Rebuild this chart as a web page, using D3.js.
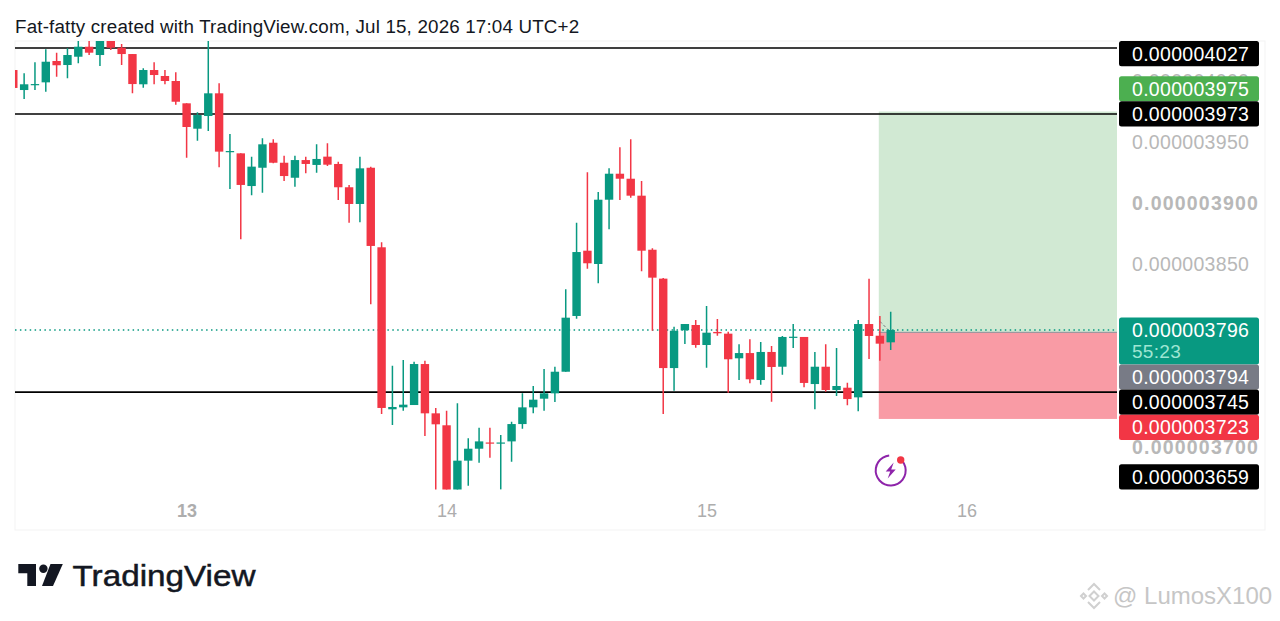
<!DOCTYPE html>
<html>
<head>
<meta charset="utf-8">
<script src="https://cdn.jsdelivr.net/npm/d3@7"></script>
<style>
  html, body { margin: 0; padding: 0; background: #fff; overflow: hidden; }
  svg { display: block; }
  text { font-family: "Liberation Sans", sans-serif; }
</style>
</head>
<body>
<div id="chart-area"></div>
<script>
// hourly candles, prices in units of 1e-9
const opens = [4009.0,3992.6,3996.7,3998.9,4016.4,4013.1,4019.9,4028.1,4021.3,4035.2,4027.3,4022.1,3997.3,4009.0,4004.1,4000.0,3981.7,3960.9,3971.3,3989.9,3941.6,3940.7,3913.9,3928.9,3949.4,3933.0,3920.7,3935.2,3931.2,3938.0,3932.0,3912.9,3899.2,3928.9,3863.7,3730.9,3732.5,3734.4,3768.0,3727.6,3717.8,3661.0,3688.8,3698.6,3703.7,3702.9,3704.6,3718.8,3732.5,3739.6,3744.0,3761.7,3807.4,3860.9,3850.0,3902.7,3924.0,3919.9,3906.0,3861.7,3838.0,3764.7,3795.7,3800.0,3783.6,3794.3,3792.9,3772.7,3777.0,3754.9,3777.9,3765.8,3789.6,3790.2,3751.6,3765.8,3746.7,3748.6,3740.7,3800.8,3791.2,3785.8];
const highs = [4009.0,4006.3,4015.3,4026.0,4023.2,4026.8,4033.0,4033.0,4036.9,4036.9,4030.3,4022.1,4010.4,4015.3,4009.0,4007.1,3981.7,3974.3,4036.9,3998.1,3956.6,3940.7,3938.0,3953.0,3952.2,3938.8,3938.8,3938.0,3948.1,3948.9,3933.9,3914.8,3938.0,3929.8,3867.8,3766.6,3771.3,3769.9,3770.7,3732.0,3729.7,3735.8,3707.1,3715.8,3715.8,3709.8,3720.7,3744.0,3750.0,3763.9,3765.8,3829.3,3883.9,3925.2,3909.0,3928.4,3945.7,3952.2,3918.0,3862.9,3838.5,3798.6,3800.8,3804.1,3815.6,3804.9,3794.5,3784.2,3788.3,3786.1,3782.8,3791.0,3800.8,3790.2,3777.9,3784.2,3781.1,3752.7,3804.1,3838.0,3807.4,3810.9];
const lows = [3994.3,3985.3,3992.6,3991.2,4003.5,4002.2,4014.5,4021.3,4012.3,4025.4,4013.1,3989.9,3994.5,3997.3,3997.3,3980.6,3937.1,3951.1,3959.0,3929.3,3911.5,3870.2,3906.3,3908.4,3932.5,3918.0,3913.4,3924.3,3924.8,3930.3,3902.5,3883.9,3884.2,3817.0,3727.0,3718.0,3729.7,3734.4,3709.0,3660.0,3659.0,3659.0,3668.3,3687.1,3691.2,3665.0,3687.9,3715.0,3727.6,3729.7,3736.9,3761.7,3805.2,3846.1,3834.2,3878.4,3902.5,3904.3,3844.0,3795.3,3727.0,3746.1,3784.4,3781.4,3765.0,3791.2,3744.5,3754.9,3752.2,3751.1,3737.1,3759.3,3781.1,3748.9,3730.9,3745.3,3741.8,3734.2,3729.3,3772.1,3770.7,3779.5];
const closes = [3994.3,3997.3,3997.5,4015.8,4012.9,4021.3,4028.1,4023.2,4035.2,4027.3,4022.1,3997.5,4009.0,4004.9,4000.0,3983.0,3962.3,3972.1,3989.9,3942.1,3942.6,3914.8,3929.8,3948.1,3933.0,3922.1,3935.2,3932.0,3936.1,3931.4,3912.9,3899.2,3928.4,3864.8,3732.0,3732.8,3734.7,3768.0,3727.6,3718.6,3661.0,3688.8,3698.6,3704.6,3702.9,3703.7,3718.8,3732.5,3738.8,3744.0,3761.7,3806.0,3859.8,3850.6,3902.7,3924.0,3919.9,3906.0,3860.9,3838.8,3764.7,3795.3,3800.8,3783.6,3793.7,3793.2,3771.9,3777.0,3755.5,3777.9,3765.6,3790.2,3790.4,3752.5,3765.8,3746.7,3750.0,3739.3,3800.8,3791.0,3784.7,3795.9];

const dayLabels = ["13", "14", "15", "16"];
const dayCandles = [16, 40, 64, 88];
const boldDays = ["13"];

const priceTicks = [4000, 3950, 3900, 3850, 3700];
const boldTicks = [3900, 3700];

const levels = [4027, 3973, 3745];
const lastPrice = 3796;
const countdown = "55:23";
const targetPrice = 3975, entryPrice = 3794, stopPrice = 3723;
const positionStart = 79.9;

const tagValues = [4027, 3975, 3973, 3796, 3794, 3745, 3723, 3659];
const tagColors = ["#000", "#4caf50", "#000", "#089981", "#787b86", "#000", "#f23645", "#000"];

const title = "Fat-fatty created with TradingView.com, Jul 15, 2026 17:04 UTC+2";

const width = 1280, height = 621;
const pane = { left: 15, right: 1117, top: 41, bottom: 489.5 };
const green = "#089981", red = "#f23645";
const fmt = d => (d * 1e-9).toFixed(9);

const svg = d3.select("#chart-area").append("svg")
    .attr("width", width)
    .attr("height", height);

const x = d3.scaleLinear().domain([0, 81]).range([13.3, 890.7]);
const y = d3.scaleLinear().domain([3950, 3700]).range([142, 447]);

svg.append("text")
    .attr("x", 15).attr("y", 33)
    .attr("font-size", 18.8)
    .attr("letter-spacing", 0.17)
    .attr("fill", "#131722")
    .text(title);

// outer frame, barely visible
svg.append("rect")
    .attr("x", 15).attr("y", 41).attr("width", 1250).attr("height", 489)
    .attr("fill", "none").attr("stroke", "#f3f3f3");

svg.append("defs").append("clipPath").attr("id", "pane")
    .append("rect")
    .attr("x", pane.left).attr("y", pane.top)
    .attr("width", pane.right - pane.left).attr("height", pane.bottom - pane.top);

const chart = svg.append("g").attr("clip-path", "url(#pane)");

// long position box
chart.append("rect")
    .attr("x", x(positionStart)).attr("width", pane.right - x(positionStart))
    .attr("y", y(targetPrice)).attr("height", y(entryPrice) - y(targetPrice))
    .attr("fill", "#d1e9d3");
chart.append("rect")
    .attr("x", x(positionStart)).attr("width", pane.right - x(positionStart))
    .attr("y", y(entryPrice)).attr("height", y(stopPrice) - y(entryPrice))
    .attr("fill", "#f99ba5");

// entry line of the position
chart.append("line")
    .attr("x1", x(positionStart)).attr("x2", pane.right)
    .attr("y1", y(entryPrice)).attr("y2", y(entryPrice))
    .attr("stroke", "#8a8f98").attr("stroke-width", 1);
chart.append("line")
    .attr("x1", x(80)).attr("x2", x(81))
    .attr("y1", y(3803)).attr("y2", y(entryPrice))
    .attr("stroke", "#787b86").attr("stroke-width", 1)
    .attr("stroke-dasharray", "3 2");

// horizontal levels
chart.selectAll("line.level")
    .data(levels)
    .enter().append("line")
    .attr("class", "level")
    .attr("x1", pane.left).attr("x2", pane.right)
    .attr("y1", d => y(d)).attr("y2", d => y(d))
    .attr("stroke", "#000").attr("stroke-width", 1.6);

// last price line
chart.append("line")
    .attr("x1", pane.left).attr("x2", pane.right)
    .attr("y1", y(lastPrice)).attr("y2", y(lastPrice))
    .attr("stroke", green).attr("stroke-width", 1.5)
    .attr("stroke-dasharray", "1.5 3.4");

// candles
const candles = opens.map((o, i) => ({ i, o, h: highs[i], l: lows[i], c: closes[i] }));
const candleColor = d => d.c >= d.o ? green : red;

chart.selectAll("line.wick")
    .data(candles)
    .enter().append("line")
    .attr("class", "wick")
    .attr("x1", d => x(d.i)).attr("x2", d => x(d.i))
    .attr("y1", d => y(d.h)).attr("y2", d => y(d.l))
    .attr("stroke", candleColor).attr("stroke-width", 1.5);

chart.selectAll("rect.body")
    .data(candles)
    .enter().append("rect")
    .attr("class", "body")
    .attr("x", d => x(d.i) - 4.2).attr("width", 8.4)
    .attr("y", d => y(Math.max(d.o, d.c)))
    .attr("height", d => Math.max(1.2, Math.abs(y(d.o) - y(d.c))))
    .attr("fill", candleColor);

// price axis
const yAxis = svg.append("g")
    .attr("transform", `translate(${pane.right + 15},0)`)
    .call(d3.axisRight(y).tickValues(priceTicks).tickSize(0).tickPadding(0).tickFormat(fmt));
yAxis.select(".domain").remove();
yAxis.selectAll("text")
    .attr("font-size", 19.5)
    .attr("font-family", "Liberation Sans")
    .attr("font-weight", d => boldTicks.includes(d) ? "bold" : "normal")
    .attr("letter-spacing", d => boldTicks.includes(d) ? 1.2 : 0.3)
    .attr("fill", "#b8b8b8");

// time axis
const xAxis = svg.append("g")
    .attr("transform", "translate(0,504)")
    .call(d3.axisBottom(x).tickValues(dayCandles).tickSize(0).tickPadding(0)
        .tickFormat((d, i) => dayLabels[i]));
xAxis.select(".domain").remove();
xAxis.selectAll("text")
    .attr("font-size", 18)
    .attr("font-family", "Liberation Sans")
    .attr("font-weight", (d, i) => boldDays.includes(dayLabels[i]) ? "bold" : "normal")
    .attr("fill", "#adadad");

// price tags, pushed apart from the last price tag like the platform does
const tagH = 25.2, lastH = 47;
const tags = tagValues.map((v, i) => ({ v, color: tagColors[i], h: v === lastPrice ? lastH : tagH }));
let edge = y(lastPrice) - 12.5;
tags.filter(t => t.v > lastPrice).reverse().forEach(t => {
    t.top = Math.max(pane.top, Math.min(y(t.v) - tagH / 2, edge - tagH));
    edge = t.top;
});
edge = y(lastPrice) - 12.5;
tags.filter(t => t.v <= lastPrice).forEach(t => {
    t.top = Math.min(pane.bottom - t.h, Math.max(y(t.v) - tagH / 2, edge));
    edge = t.top + t.h;
});

const tagG = svg.selectAll("g.tag")
    .data(tags)
    .enter().append("g")
    .attr("class", "tag")
    .attr("transform", d => `translate(${pane.right + 2},${d.top})`);
tagG.append("rect")
    .attr("width", 140).attr("height", d => d.h)
    .attr("rx", 2.5)
    .attr("fill", d => d.color);
tagG.append("text")
    .attr("x", 13).attr("y", 19.5)
    .attr("font-size", 19.5)
    .attr("letter-spacing", 0.3)
    .attr("fill", "#fff")
    .text(d => fmt(d.v));
tagG.filter(d => d.v === lastPrice).append("text")
    .attr("x", 13).attr("y", 41)
    .attr("font-size", 19)
    .attr("letter-spacing", 0.3)
    .attr("fill", "#9fe6d3")
    .text(countdown);

// alert badge
const badge = svg.append("g").attr("transform", `translate(${x(81)},470.5)`);
badge.append("path")
    .attr("d", d3.arc()({ innerRadius: 14, outerRadius: 16, startAngle: 0.9, endAngle: Math.PI * 2 - 0.1 }))
    .attr("fill", "#8e24aa");
badge.append("path")
    .attr("d", "M3 -8 L-5 1 L-0.5 1 L-3 8 L5 -1 L0.5 -1 Z")
    .attr("fill", "#8e24aa");
badge.append("circle").attr("cx", 10).attr("cy", -10.5).attr("r", 3.7).attr("fill", red);

// logo
const logo = svg.append("g").attr("fill", "#131722");
logo.append("path").attr("d", "M18.3 564H36V586H27.3V573.3H18.3Z");
logo.append("circle").attr("cx", 43.4).attr("cy", 568.7).attr("r", 4.2);
logo.append("path").attr("d", "M50.5 564H62.8L53 586H42Z");
logo.append("text")
    .attr("x", 72.5).attr("y", 586)
    .attr("font-family", "Inter").attr("font-weight", 500)
    .attr("font-size", 30)
    .attr("stroke", "#131722").attr("stroke-width", 0.5)
    .attr("textLength", 183).attr("lengthAdjust", "spacingAndGlyphs")
    .text("TradingView");

// watermark
const mark = svg.append("g")
    .attr("transform", "translate(1094,596)")
    .attr("fill", "none").attr("stroke", "#d0d0d0").attr("stroke-width", 2);
mark.append("path").attr("d", "M-6 -6 L0 -12 L6 -6");
mark.append("path").attr("d", "M-6 6 L0 12 L6 6");
mark.append("path").attr("d", "M-4.5 0 L0 -4.5 L4.5 0 L0 4.5 Z");
mark.append("path").attr("d", "M-13 0 L-10.5 -2.5 L-8 0 L-10.5 2.5 Z");
mark.append("path").attr("d", "M13 0 L10.5 -2.5 L8 0 L10.5 2.5 Z");
svg.append("text")
    .attr("x", 1113).attr("y", 604)
    .attr("font-family", "Noto Sans").attr("font-size", 24)
    .attr("font-weight", 300)
    .attr("fill", "#c6c6c6")
    .text("@ LumosX100");
</script>
</body>
</html>
